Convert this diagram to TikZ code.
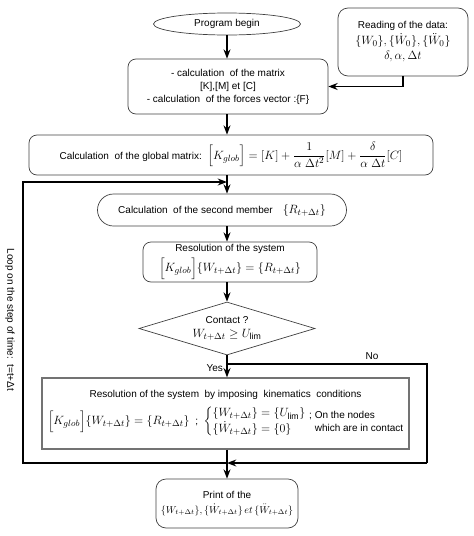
\documentclass[tikz,border=0pt]{standalone}
\usepackage{fontspec}
\setmainfont{Liberation Sans}
\usepackage{amsmath}
\usetikzlibrary{arrows.meta,shapes.geometric,positioning}

\newcommand{\bigmath}[1]{{\fontsize{12.5}{15}\selectfont$#1$}}

\tikzset{
  stepbox/.style={draw=black!75, line width=0.7pt, rounded corners=8pt, align=center,
    inner sep=2pt, font=\fontsize{10}{13}\selectfont},
  beginoval/.style={ellipse, draw=black!75, line width=0.7pt, inner sep=0pt,
    font=\fontsize{10}{13}\selectfont},
  testbox/.style={diamond, draw=black!75, line width=0.7pt, aspect=3.3, inner sep=0pt,
    align=center, font=\fontsize{10}{13}\selectfont},
  imposebox/.style={draw=black!55, line width=1.3pt, align=center, inner sep=2pt,
    font=\fontsize{10}{13}\selectfont},
  flow/.style={line width=1.4pt}
}

\begin{document}
\begin{tikzpicture}[x=1pt, y=-1pt, >=Stealth]
  \useasboundingbox (0,0) rectangle (474,536);

  % main column
  \coordinate (col) at (227,0);

  % boxes
  \node[beginoval, minimum width=147pt, minimum height=22pt] (begin) at (227,24) {Program begin};
  \node[stepbox, rounded corners=10pt, minimum width=130pt, minimum height=68pt] (data) at (403,42)
    {Reading of the data:\\[2pt] \bigmath{\{W_0\},\{\dot W_0\},\{\ddot W_0\}}\\[2pt] \bigmath{\delta,\alpha,\Delta t}};
  \node[stepbox, minimum width=200pt, minimum height=55pt] (calc) at (228,86.5)
    {- calculation\ \ of the matrix\\\relax [K],[M] et [C]\\ - calculation\ \ of the forces vector :\{F\}};
  \node[stepbox, minimum width=404pt, minimum height=40pt] (glob) at (231,155)
    {Calculation\ \ of the global matrix:\ \ \bigmath{\Big[K_{glob}\Big]=[K]+\dfrac{1}{\alpha\ \Delta t^2}[M]+\dfrac{\delta}{\alpha\ \Delta t}[C]}};
  \node[stepbox, rounded corners=16pt, minimum width=249pt, minimum height=32pt] (second) at (222,210)
    {Calculation\ \ of the second member\quad \bigmath{\{R_{t+\Delta t}\}}};
  \node[stepbox, minimum width=174pt, minimum height=40pt] (resol) at (230,262)
    {Resolution of the system\\[3pt] \bigmath{\Big[K_{glob}\Big]\{W_{t+\Delta t}\}=\{R_{t+\Delta t}\}}};
  \node[testbox, minimum width=176pt, minimum height=53pt] (contact) at (227,328.5)
    {Contact ?\\[1pt] \bigmath{W_{t+\Delta t}\geq U_{\mathrm{lim}}}};
  \node[imposebox, minimum width=367pt, minimum height=71pt] (impose) at (225.5,413.5)
    {Resolution of the system\ \ by imposing\ \ kinematics\ \ conditions\\[6pt]
     \bigmath{\Big[K_{glob}\Big]\{W_{t+\Delta t}\}=\{R_{t+\Delta t}\}}\ \ ;\ \
     \bigmath{\left\{\begin{array}{@{}l@{}}\{W_{t+\Delta t}\}=\{U_{\mathrm{lim}}\}\\ \{\dot W_{t+\Delta t}\}=\{0\}\end{array}\right.}%
     \begin{tabular}[c]{@{}l@{}}\ ; On the nodes\\ \ \ \ which are in contact\end{tabular}};
  \node[stepbox, rounded corners=10pt, minimum width=142pt, minimum height=49pt] (print) at (227,503.5)
    {Print of the\\[2pt] $\{W_{t+\Delta t}\},\{\dot W_{t+\Delta t}\}\,et\,\{\ddot W_{t+\Delta t}\}$};

  % loop label
  \node[rotate=-90, font=\fontsize{10}{13}\selectfont] (looplbl) at (10,320)
    {Loop on the step of time:\ \ t=t+Δt};

  % turning points
  \coordinate (nostart) at (227,364);
  \coordinate (noturn) at (427,364);
  \coordinate (join) at (227,463);
  \coordinate (loopcorner) at (23,182);

  % connectors
  \draw[->, flow] (begin.south -| col) -- (calc.north -| col);
  \draw[->, flow] (data.south) |- (calc.east);
  \draw[->, flow] (calc.south -| col) -- (glob.north -| col);
  \draw[->, flow] (glob.south -| col) -- (second.north -| col);
  \draw[->, flow] (second.south -| col) -- (resol.north -| col);
  \draw[->, flow] (resol.south -| col) -- (contact.north);
  \draw[->, flow] (contact.south) -- node[left, pos=0.6, font=\fontsize{10}{13}\selectfont] {Yes} (impose.north -| contact.south);
  \draw[flow] (nostart) -- node[above, pos=0.725, font=\fontsize{10}{13}\selectfont] {No} (noturn) -- (noturn |- join);
  \draw[->, flow] (noturn |- join) -- (join);
  \draw[->, flow] (join) -| (loopcorner) -- (loopcorner -| col);
  \draw[->, flow] (impose.south -| col) -- (print.north -| col);

\end{tikzpicture}
\end{document}
